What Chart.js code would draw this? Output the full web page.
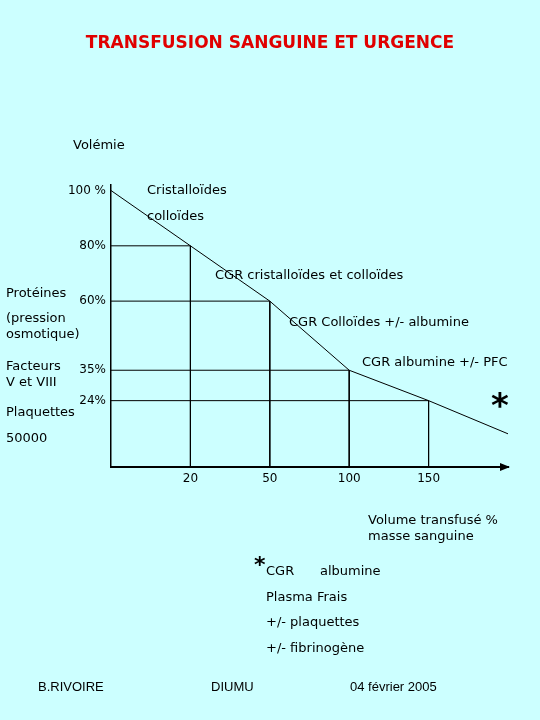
<!DOCTYPE html>
<html lang="fr">
<head>
<meta charset="UTF-8">
<title>Transfusion sanguine et urgence</title>
<script src="https://cdn.jsdelivr.net/npm/chart.js@4.4.1/dist/chart.umd.min.js"></script>
<style>
  html, body { margin: 0; padding: 0; }
  body {
    width: 540px; height: 720px; position: relative; overflow: hidden;
    background: #ccffff;
    font-family: 'Comic Sans MS', 'DejaVu Sans', sans-serif;
    font-size: 13px; color: #000;
  }
  #wrap { position: absolute; left: 0; top: 0; width: 540px; height: 720px; }
  .t { position: absolute; line-height: 16px; white-space: nowrap; }
  .title { left: 0; width: 540px; text-align: center; top: 32px; line-height: 20px;
           color: #e00000; font-weight: bold; font-size: 17px; }
  .foot { font-family: 'Liberation Sans', Arial, sans-serif; font-size: 13px; }
</style>
</head>
<body>
<div id="wrap"><canvas id="volemie" width="540" height="720"></canvas></div>

<div class="t title">TRANSFUSION SANGUINE ET URGENCE</div>
<div class="t" style="left:73px;top:137px">Volémie</div>
<div class="t" style="left:147px;top:182px">Cristalloïdes</div>
<div class="t" style="left:147px;top:208px">colloïdes</div>
<div class="t" style="left:215px;top:267px">CGR cristalloïdes et colloïdes</div>
<div class="t" style="left:6px;top:285px">Protéines</div>
<div class="t" style="left:6px;top:310px">(pression</div>
<div class="t" style="left:6px;top:326px">osmotique)</div>
<div class="t" style="left:289px;top:314px">CGR Colloïdes +/- albumine</div>
<div class="t" style="left:6px;top:358px">Facteurs</div>
<div class="t" style="left:6px;top:374px">V et VIII</div>
<div class="t" style="left:362px;top:354px">CGR albumine +/- PFC</div>
<div class="t" style="left:6px;top:404px">Plaquettes</div>
<div class="t" style="left:6px;top:430px">50000</div>
<div class="t" style="left:491px;top:388px;font-size:34px;font-weight:bold;line-height:34px">*</div>
<div class="t" style="left:368px;top:512px">Volume transfusé %</div>
<div class="t" style="left:368px;top:528px">masse sanguine</div>
<div class="t" style="left:254px;top:554px;font-size:22px;font-weight:bold;line-height:22px">*</div>
<div class="t" style="left:266px;top:563px">CGR</div>
<div class="t" style="left:320px;top:563px">albumine</div>
<div class="t" style="left:266px;top:589px">Plasma Frais</div>
<div class="t" style="left:266px;top:614px">+/- plaquettes</div>
<div class="t" style="left:266px;top:640px">+/- fibrinogène</div>
<div class="t foot" style="left:38px;top:679px">B.RIVOIRE</div>
<div class="t foot" style="left:211px;top:679px">DIUMU</div>
<div class="t foot" style="left:350px;top:679px">04 février 2005</div>

<script>
// volume transfusé (% masse sanguine) -> volémie (%)
const volumeLabels = ['', '20', '50', '100', '150', ''];
const volemie = [100, 80, 60, 35, 24, 12];
const yTicks = [100, 80, 60, 35, 24];
const yTickLabels = ['100 %', '80%', '60%', '35%', '24%'];

// repères : horizontale depuis l'axe puis verticale jusqu'à l'axe des x
// (parsing: false -> x est directement l'index de la catégorie)
const reperes = [1, 2, 3, 4].map(function (i) {
  return {
    parsing: false,
    data: [{x: 0, y: volemie[i]}, {x: i, y: volemie[i]}, {x: i, y: 0}],
    borderColor: '#000', borderWidth: 1, pointRadius: 0, fill: false, tension: 0
  };
});

const arrowPlugin = {
  id: 'arrow',
  afterDraw: function (chart) {
    const ctx = chart.ctx, a = chart.chartArea;
    ctx.save();
    ctx.fillStyle = '#000';
    ctx.beginPath();
    ctx.moveTo(a.right + 2, a.bottom);
    ctx.lineTo(a.right - 8, a.bottom - 4);
    ctx.lineTo(a.right - 8, a.bottom + 4);
    ctx.closePath();
    ctx.fill();
    ctx.restore();
  }
};

const tickFont = {family: "'Comic Sans MS', 'DejaVu Sans', sans-serif", size: 12};

new Chart(document.getElementById('volemie').getContext('2d'), {
  type: 'line',
  data: {
    labels: volumeLabels,
    datasets: [{
      data: volemie,
      borderColor: '#000', borderWidth: 1, pointRadius: 0, fill: false, tension: 0
    }].concat(reperes)
  },
  options: {
    responsive: false,
    animation: false,
    layout: {padding: {top: 185, right: 32, bottom: 229, left: 0}},
    plugins: {legend: {display: false}, tooltip: {enabled: false}},
    scales: {
      x: {
        type: 'category',
        offset: false,
        grid: {display: false, drawTicks: false},
        border: {display: true, color: '#000', width: 2},
        ticks: {color: '#000', font: tickFont, padding: 5, autoSkip: false, maxRotation: 0},
        afterFit: function (s) { s.height = 24; }
      },
      y: {
        min: 0, max: 102,
        grid: {display: false, drawTicks: false},
        border: {display: true, color: '#000', width: 1.5},
        afterBuildTicks: function (s) { s.ticks = yTicks.map(function (v) { return {value: v}; }); },
        ticks: {
          color: '#000', font: tickFont, padding: 5,
          callback: function (v) { return yTickLabels[yTicks.indexOf(v)]; }
        },
        afterFit: function (s) { s.width = 111; }
      }
    }
  },
  plugins: [arrowPlugin]
});
</script>
</body>
</html>
